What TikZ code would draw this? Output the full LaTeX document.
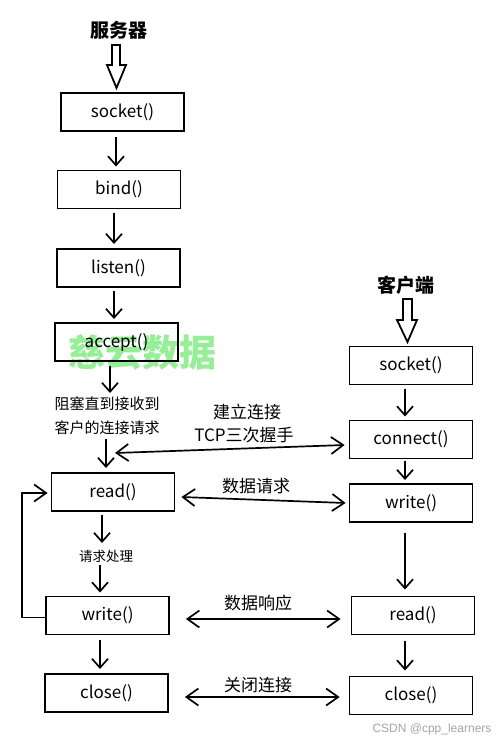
\documentclass[tikz,border=0pt]{standalone}
\usepackage{fontspec}
\setmainfont{Noto Sans CJK SC}
\newfontfamily\wmfont{Liberation Sans}
\usetikzlibrary{arrows.meta,calc}
\definecolor{wmgreen}{RGB}{150,238,150}
\definecolor{wmgray}{RGB}{165,165,165}
\begin{document}
\begin{tikzpicture}[x=1pt,y=-1pt,
  box/.style={draw, line width=1.8pt, minimum width=123pt, minimum height=38pt, inner sep=0pt, font=\fontsize{17}{19}\selectfont},
  arr/.style={line width=1.7pt, -{Straight Barb[length=9pt,width=16pt,line width=1.7pt]}},
  darr/.style={line width=1.7pt, {Straight Barb[length=12pt,width=17pt,line width=1.7pt]}-{Straight Barb[length=12pt,width=17pt,line width=1.7pt]}},
  lbl/.style={inner sep=0pt, font=\fontsize{17}{19}\selectfont},
  side/.style={inner sep=0pt, font=\fontsize{15}{17}\selectfont},
  title/.style={inner sep=0pt, font=\fontsize{19}{21}\selectfont\bfseries},
  hollow/.style={draw, line width=1.8pt, fill=white, line join=miter}]
\useasboundingbox (0,0) rectangle (500,744);
\fill[white] (0,0) rectangle (500,744);

% watermark (behind everything)
\node[inner sep=0pt, text=wmgreen, font=\fontsize{37}{40}\selectfont\bfseries] (wm) at (142,352) {慈云数据};

% titles
\node[title] (ts) at (119,30) {服务器};
\node[title] (tc) at (406,285) {客户端};

% server boxes
\node[box] (s1) at (122.5,112) {socket()};
\node[box] (s2) at (119,189.5) {bind()};
\node[box] (s3) at (118.5,268) {listen()};
\node[box] (s4) at (116.5,342) {accept()};
\node[box] (s5) at (113,492) {read()};
\node[box] (s6) at (107.5,615.5) {write()};
\node[box] (s7) at (106.5,693) {close()};

% client boxes
\node[box] (c1) at (411,365.5) {socket()};
\node[box] (c2) at (411,439.5) {connect()};
\node[box] (c3) at (411,503) {write()};
\node[box] (c4) at (413,615.5) {read()};
\node[box] (c5) at (411,695.5) {close()};

% hollow arrows
\draw[hollow] (112,45) -- (120,45) -- (120,65) -- (126,65) -- (116.5,88) -- (107,65) -- (112,65) -- cycle;
\draw[hollow] (403,299) -- (412,299) -- (412,320) -- (417,320) -- (407.5,342) -- (397,320) -- (403,320) -- cycle;

% side labels
\node[side] (b1) at (107,404) {阻塞直到接收到};
\node[side] (b2) at (107,428) {客户的连接请求};
\node[inner sep=0pt, font=\fontsize{13.5}{15}\selectfont] (p1) at (106,556) {请求处理};

% server vertical arrows
\draw[arr] ($(s1.center)+(-6.5,25)$) -- ($(s2.center)+(-3,-23)$);
\draw[arr] ($(s2.center)+(-5,23)$) -- ($(s3.center)+(-4.5,-24)$);
\draw[arr] ($(s3.center)+(-4.5,23)$) -- ($(s4.center)+(-2.5,-23)$);
\draw[arr] ($(s4.center)+(-6.5,24)$) -- ($(b1.center)+(3,-11)$);
\draw[arr] ($(b2.center)+(-1,11)$) -- ($(s5.center)+(-7,-24)$);
\draw[arr] ($(s5.center)+(-11,23)$) -- ($(p1.center)+(-4,-13)$);
\draw[arr] ($(p1.center)+(-6,9)$) -- ($(s6.center)+(-7.5,-23)$);
\draw[arr] ($(s6.center)+(-7.5,24)$) -- ($(s7.center)+(-6.5,-24)$);

% loop back
\draw[line width=1.7pt, -{Straight Barb[length=12pt,width=17pt,line width=1.7pt]}]
  ($(s6.west)+(0,2)$) -- (22,617.5) -- (22,493) -- ($(s5.west)+(-3,1)$);

% client vertical arrows
\draw[arr] ($(c1.center)+(-6,23)$) -- ($(c2.center)+(-6,-23)$);
\draw[arr] ($(c2.center)+(-6,21)$) -- ($(c3.center)+(-6,-23)$);
\draw[arr] ($(c3.center)+(-6,30)$) -- ($(c4.center)+(-8,-26)$);
\draw[arr] ($(c4.center)+(-8,25)$) -- ($(c5.center)+(-6,-25)$);

% horizontal arrows
\coordinate (hs) at (115,453);
\draw[darr] (hs) -- ($(c2.west)+(-4,5.5)$);
\draw[darr] ($(s5.east)+(6,5)$) -- ($(c3.west)+(-3,0)$);
\draw[darr] ($(s6.east)+(16,3.5)$) -- ($(c4.west)+(-10,3.5)$);
\draw[darr] ($(s7.east)+(16,4)$) -- ($(c5.west)+(-9,1.5)$);

\node[lbl] (l1) at (247,412) {建立连接};
\node[lbl] (l2) at (244,435) {TCP三次握手};
\node[lbl] (l3) at (256,486) {数据请求};
\node[lbl] (l4) at (258,603) {数据响应};
\node[lbl] (l5) at (258,685) {关闭连接};

\node[inner sep=0pt, text=wmgray, font=\wmfont\fontsize{12}{14}\selectfont] (csdn) at (432,729) {CSDN @cpp\_learners};
\end{tikzpicture}
\end{document}
